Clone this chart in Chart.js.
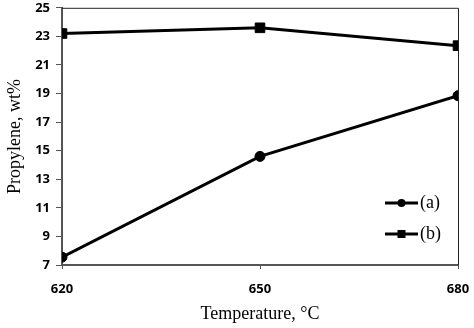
<!DOCTYPE html>
<html>
<head>
<meta charset="utf-8">
<script src="https://cdn.jsdelivr.net/npm/chart.js@4/dist/chart.umd.min.js"></script>
<style>
html,body{margin:0;padding:0;background:#fff;}
#wrap{width:474px;height:328px;}
</style>
</head>
<body>
<div id="wrap"><canvas id="c" width="474" height="328"></canvas></div>
<script>
const temperatures = [620, 650, 680];
const seriesA = [7.55, 14.6, 18.85];
const seriesB = [23.2, 23.6, 22.35];
const seriesNames = ['(a)', '(b)'];
const yTicks = [7, 9, 11, 13, 15, 17, 19, 21, 23, 25];
const xTitle = 'Temperature, \u00b0C';
const yTitle = 'Propylene, wt%';

const serif = '"Liberation Serif", "DejaVu Serif", serif';

const frame = {
  id: 'frame',
  afterDraw(chart) {
    const {ctx, chartArea: a} = chart;
    ctx.save();
    ctx.strokeStyle = '#222';
    ctx.lineWidth = 1;
    ctx.beginPath();
    ctx.moveTo(a.left, a.top + 0.5);
    ctx.lineTo(a.right + 0.5, a.top + 0.5);
    ctx.lineTo(a.right + 0.5, a.bottom);
    ctx.stroke();
    // legend
    chart.data.datasets.forEach((ds, i) => {
      const y = a.bottom - 62 + i * 31;
      const x0 = a.right - 73, x1 = a.right - 40;
      ctx.strokeStyle = ds.borderColor;
      ctx.lineWidth = 3;
      ctx.beginPath();
      ctx.moveTo(x0, y); ctx.lineTo(x1, y); ctx.stroke();
      ctx.fillStyle = ds.borderColor;
      ctx.beginPath();
      if (ds.pointStyle === 'circle') { ctx.arc((x0 + x1) / 2, y, 4, 0, Math.PI * 2); }
      else { ctx.rect((x0 + x1) / 2 - 4, y - 4, 8, 8); }
      ctx.fill();
      ctx.fillStyle = '#000';
      ctx.font = '18px ' + serif;
      ctx.textBaseline = 'middle';
      ctx.textAlign = 'left';
      ctx.fillText(ds.label, x1 + 2, y);
    });
    ctx.restore();
  }
};

new Chart(document.getElementById('c'), {
  type: 'line',
  data: {
    datasets: [
      {
        label: seriesNames[0],
        data: temperatures.map((t, i) => ({x: t, y: seriesA[i]})),
        borderColor: '#000', backgroundColor: '#000',
        borderWidth: 3, pointStyle: 'circle', pointRadius: 5, pointBorderWidth: 1, pointHoverRadius: 5,
        tension: 0
      },
      {
        label: seriesNames[1],
        data: temperatures.map((t, i) => ({x: t, y: seriesB[i]})),
        borderColor: '#000', backgroundColor: '#000',
        borderWidth: 3, pointStyle: 'rect', pointRadius: 6.8, pointBorderWidth: 1, pointHoverRadius: 6.8,
        tension: 0
      }
    ]
  },
  options: {
    responsive: false,
    animation: false,
    devicePixelRatio: 1,
    layout: {padding: {top: 7, right: 16, left: 0, bottom: 0}},
    plugins: {legend: {display: false}, tooltip: {enabled: false}},
    scales: {
      x: {
        type: 'linear',
        min: temperatures[0], max: temperatures[temperatures.length - 1],
        afterBuildTicks: s => { s.ticks = temperatures.map(v => ({value: v})); },
        afterFit: s => { s.height = 63; s.paddingLeft = 0; s.paddingRight = 0; },
        grid: {display: true, drawOnChartArea: false, tickLength: 4, color: '#555', tickWidth: 1},
        border: {display: true, color: '#555', width: 2},
        ticks: {color: '#000', padding: 12, font: {family: '"Open Sans", sans-serif', size: 13, weight: 'bold'}, maxRotation: 0},
        title: {display: true, text: xTitle, color: '#000', padding: {top: 0, bottom: 3},
          font: {family: serif, size: 18}}
      },
      y: {
        type: 'linear',
        min: yTicks[0], max: yTicks[yTicks.length - 1],
        afterBuildTicks: s => { s.ticks = yTicks.map(v => ({value: v})); },
        afterFit: s => { s.width = 62; s.paddingTop = 0; s.paddingBottom = 0; },
        grid: {display: true, drawOnChartArea: false, tickLength: 6, color: '#555', tickWidth: 1},
        border: {display: true, color: '#555', width: 2},
        ticks: {color: '#000', padding: 6, font: {family: '"Open Sans", sans-serif', size: 13, weight: 'bold'}},
        title: {display: true, text: yTitle, color: '#000', padding: {top: 4, bottom: 0},
          font: {family: serif, size: 18}}
      }
    }
  },
  plugins: [frame]
});
</script>
</body>
</html>
